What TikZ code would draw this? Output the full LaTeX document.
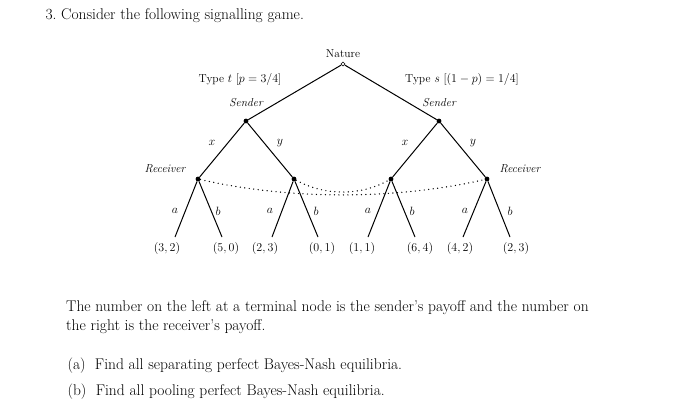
\documentclass[tikz,border=0pt]{standalone}
\begin{document}
\begin{tikzpicture}[x=1pt,y=-1pt,
  dec/.style={circle,fill,inner sep=1.7pt},
  chance/.style={circle,draw,fill=white,inner sep=1.4pt},
  edge/.style={line width=1pt},
  lbl/.style={font=\fontsize{11.5}{13}\selectfont},
  big/.style={font=\fontsize{15.5}{19}\selectfont},
  info/.style={line width=1.4pt,dash pattern=on 0pt off 4.5pt,line cap=round}]
\useasboundingbox (0,0) rectangle (700,408);
\node[anchor=west,big] (title) at (42,16) {3.\ Consider the following signalling game.};
\node[chance] (N) at (343,64) {};
\node[lbl,above=1pt] (Nl) at (N.north) {Nature};
\node[dec] (S1) at (246,121) {};
\node[dec] (S2) at (439,121) {};
\node[dec] (R1) at (198,179) {};
\node[dec] (R2) at (294,179) {};
\node[dec] (R3) at (391,179) {};
\node[dec] (R4) at (487,179) {};
\foreach \n/\x in {1/175,2/222,3/272,4/318,5/368,6/415,7/463,8/510}{\coordinate (L\n) at (\x,237);}
\draw[edge] (N) -- (S1) (N) -- (S2);
\draw[edge] (S1) -- (R1) (S1) -- (R2) (S2) -- (R3) (S2) -- (R4);
\draw[edge] (R1)--(L1) (R1)--(L2) (R2)--(L3) (R2)--(L4) (R3)--(L5) (R3)--(L6) (R4)--(L7) (R4)--(L8);
\draw[info] (R1) .. controls (290,200) and (395,200) .. (R4);
\draw[info] (R2) .. controls (325,196) and (360,196) .. (R3);
\node[lbl] (tt) at (240,79) {Type $t$ [$p=3/4$]};
\node[lbl] (ts) at (462,79) {Type $s$ [$(1-p)=1/4$]};
\node[lbl] (sl1) at (246,103) {\itshape Sender};
\node[lbl] (sl2) at (439,103) {\itshape Sender};
\node[lbl] (rl1) at (165,169) {\itshape Receiver};
\node[lbl] (rl2) at (520,169) {\itshape Receiver};
\foreach \p/\x in {x/212,y/280,x/405,y/473}{\node[lbl] at (\x,143) {$\p$};}
\foreach \p/\x in {a/175,b/218,a/270,b/316,a/368,b/412,a/465,b/510}{\node[lbl] at (\x,211) {$\p$};}
\foreach \p/\x in {{(3,2)}/167,{(5,0)}/226,{(2,3)}/265,{(0,1)}/322,{(1,1)}/362,{(6,4)}/420,{(4,2)}/460,{(2,3)}/516}{\node[lbl] at (\x,248) {$\p$};}
\node[anchor=north west,align=left,big,inner sep=0pt] (para) at (66,300) {The number on the left at a terminal node is the sender's payoff and the number on\\ the right is the receiver's payoff.};
\node[anchor=west,big] (qa) at (64,366) {(a)\ \ Find all separating perfect Bayes-Nash equilibria.};
\node[anchor=west,big] (qb) at (64,392) {(b)\ \ Find all pooling perfect Bayes-Nash equilibria.};
\end{tikzpicture}
\end{document}
